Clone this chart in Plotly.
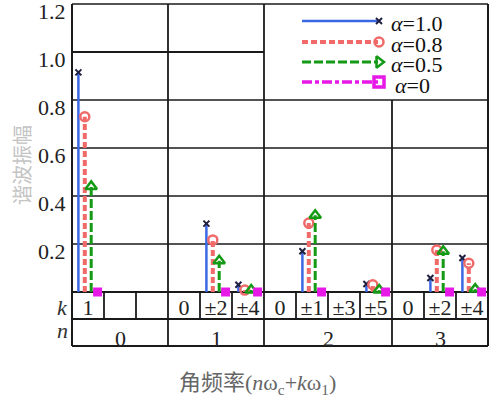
import plotly.graph_objects as go

# ---------------- data ----------------
k_labels = ["1", " ", " ", "0", "±2", "±4", "0", "±1", "±3", "±5", "0", "±2", "±4"]
n_labels = ["0", "1", "2", "3"]
n_group_sizes = [3, 3, 4, 3]
y_ticks = [0.2, 0.4, 0.6, 0.8, 1.0, 1.2]
y_tick_text = ["0.2", "0.4", "0.6", "0.8", "1.0", "1.2"]
series_names = ["α=1.0", "α=0.8", "α=0.5", "α=0"]
amp_a10 = [0.915, None, None, None, 0.285, 0.03, None, 0.17, None, 0.033, None, 0.058, 0.142]
amp_a08 = [0.73, None, None, None, 0.217, 0.008, None, 0.287, None, 0.03, None, 0.175, 0.12]
amp_a05 = [0.44, None, None, None, 0.13, 0.008, None, 0.32, None, 0.008, None, 0.17, 0.012]
amp_a00 = [0.0, None, None, None, 0.0, 0.0, None, 0.0, None, 0.0, None, 0.0, 0.0]

# ---------------- geometry / styles ----------------
W, H = 500, 402
PL, PR, PT, PB = 72, 488, 4, 292      # plot box in pixels
ROW1, ROW2 = 319, 346                 # table row bottoms
NC = len(k_labels)
CW = (PR - PL) / NC
SERIF = "Liberation Serif, Times New Roman, serif"
CJK = "Liberation Serif, Noto Sans CJK SC"
GRID = "#1a1a1a"

def xp(px):
    return px / W

def yp(py):
    return 1 - py / H

def ypx(v):
    return PB - (PB - PT) * v / 1.2

styles = [
    dict(color="#3b67e3", dash="solid", width=2.5,
         marker=dict(symbol="x-thin", size=6, line=dict(width=2, color="#202040"), color="#202040"), off=-0.3,
         leg_marker=dict(symbol="x-thin", size=6, line=dict(width=2, color="#202040"), color="#202040")),
    dict(color="#f06a6a", dash="6px,3px", width=4,
         marker=dict(symbol="circle-open", size=9, line=dict(width=2.5, color="#f06a6a"), color="#f06a6a"), off=-0.1,
         leg_marker=dict(symbol="circle-open", size=9, line=dict(width=2.5, color="#f06a6a"), color="#f06a6a")),
    dict(color="#149a14", dash="9px,3px", width=3,
         marker=dict(symbol="triangle-up-open", size=10, line=dict(width=2.5, color="#149a14"), color="#149a14"), off=0.1,
         leg_marker=dict(symbol="triangle-right-open", size=10, line=dict(width=2.5, color="#149a14"), color="#149a14")),
    dict(color="#e619e6", dash="10px,3px,4px,3px", width=3.5,
         marker=dict(symbol="square", size=9, color="#e619e6"), off=0.3,
         leg_marker=dict(symbol="square-open", size=10, line=dict(width=3.5, color="#e619e6"), color="#e619e6")),
]

fig = go.Figure()
all_series = [amp_a10, amp_a08, amp_a05, amp_a00]

for name, vals, st in zip(series_names, all_series, styles):
    lx, ly, mx, my = [], [], [], []
    for i, v in enumerate(vals):
        if v is None:
            continue
        x = i + st["off"]
        lx += [x, x, None]
        ly += [0, v, None]
        mx.append(x)
        my.append(v)
    fig.add_trace(go.Scatter(x=lx, y=ly, mode="lines", showlegend=False, hoverinfo="skip",
                             line=dict(color=st["color"], width=st["width"], dash=st["dash"]),
                             cliponaxis=False))
    fig.add_trace(go.Scatter(x=mx, y=my, mode="markers", showlegend=False, name=name,
                             marker=st["marker"], cliponaxis=False))

# ---------- legend drawn inside the box (pixel overlay axes) ----------
leg_rows = [21, 42, 62, 82]
leg_text_y = [23, 44, 64, 85]
for name, st, ry, ty in zip(series_names, styles, leg_rows, leg_text_y):
    fig.add_trace(go.Scatter(x=[302, 378], y=[ry, ry], mode="lines", xaxis="x2", yaxis="y2",
                             showlegend=False, hoverinfo="skip",
                             line=dict(color=st["color"], width=st["width"], dash=st["dash"])))
    fig.add_trace(go.Scatter(x=[379], y=[ry], mode="markers", xaxis="x2", yaxis="y2",
                             showlegend=False, hoverinfo="skip", marker=st["leg_marker"]))
    a, rest = name.split("=")
    fig.add_annotation(x=389 if rest != "0" else 393, y=ty, xref="x2", yref="y2", xanchor="left", yanchor="middle",
                       text="<i>" + a + "</i>=" + rest, showarrow=False,
                       font=dict(family=SERIF, size=22, color="#111"))

# ---------------- table / grid lines ----------------
shapes = []
def hline(py, x0, x1, w=1.5):
    shapes.append(dict(type="line", xref="paper", yref="paper", x0=xp(x0), x1=xp(x1), y0=yp(py), y1=yp(py),
                       line=dict(color=GRID, width=w), layer="below"))
def vline(px, y0, y1, w=1.5):
    shapes.append(dict(type="line", xref="paper", yref="paper", x0=xp(px), x1=xp(px), y0=yp(y0), y1=yp(y1),
                       line=dict(color=GRID, width=w), layer="below"))

bounds = [0]
for s in n_group_sizes:
    bounds.append(bounds[-1] + s)
legend_left = PL + bounds[2] * CW
legend_bottom = ypx(0.8)

hline(ypx(1.2), PL, PR)
hline(ypx(1.0), PL, legend_left, 2.2)
for v in [0.2, 0.4, 0.6, 0.8]:
    hline(ypx(v), PL, PR)
hline(PB, PL, PR, 2)
hline(ROW1, PL, PR, 2)
hline(ROW2, PL, PR, 2)
vline(PL, PT, ROW2, 2)
vline(PR, PT, ROW2, 2)
for j, b in enumerate(bounds[1:-1]):
    top = PT if j < 2 else legend_bottom
    vline(PL + b * CW, top, ROW2, 1.8)
for i in range(1, NC):
    if i not in bounds:
        vline(PL + i * CW, PB, ROW1, 1.8)

# ---------------- annotations ----------------
ann = []
for v, t in zip(y_ticks, y_tick_text):
    ann.append(dict(x=xp(68), xref="paper", y=v, yref="y", xanchor="right", yanchor="middle", yshift=-8,
                    text=t, showarrow=False, font=dict(family=SERIF, size=22, color="#222")))
for j, t in enumerate(n_labels):
    cx = PL + (bounds[j] + bounds[j + 1]) / 2 * CW
    ann.append(dict(x=xp(cx), xref="paper", y=yp(338), yref="paper", xanchor="center", yanchor="middle",
                    text=t, showarrow=False, font=dict(family=SERIF, size=22, color="#222")))
ann.append(dict(x=xp(70), xref="paper", y=yp(307), yref="paper", xanchor="right", yanchor="middle",
                text="<i>k</i>", showarrow=False, font=dict(family=SERIF, size=22, color="#333")))
ann.append(dict(x=xp(70), xref="paper", y=yp(330), yref="paper", xanchor="right", yanchor="middle",
                text="<i>n</i>", showarrow=False, font=dict(family=SERIF, size=22, color="#333")))
ann.append(dict(x=xp(257), xref="paper", y=yp(384), yref="paper", xanchor="center", yanchor="middle",
                text="角频率(<i>n</i>ω<sub>c</sub>+<i>k</i>ω<sub>1</sub>)", showarrow=False,
                font=dict(family=CJK, size=22, color="#666")))
ann.append(dict(x=xp(22), xref="paper", y=yp(165), yref="paper", xanchor="center", yanchor="middle",
                text="谐波振幅", textangle=-90, showarrow=False,
                font=dict(family="Noto Sans CJK SC", size=20, color="#c4c4c4")))

for a in ann:
    fig.add_annotation(**a)

fig.update_layout(
    width=W, height=H,
    margin=dict(l=0, r=0, t=0, b=0),
    paper_bgcolor="white", plot_bgcolor="rgba(0,0,0,0)",
    showlegend=False,
    shapes=shapes,
    xaxis=dict(domain=[xp(PL), xp(PR)], range=[-0.5, NC - 0.5], anchor="y",
               tickmode="array", tickvals=list(range(NC)), ticktext=k_labels,
               tickfont=dict(family=SERIF, size=22, color="#222"), ticks="",
               showgrid=False, zeroline=False, showline=False, fixedrange=True),
    yaxis=dict(domain=[yp(PB), yp(PT)], range=[0, 1.2], anchor="x",
               showticklabels=False, showgrid=False, zeroline=False, showline=False, ticks="", fixedrange=True),
    xaxis2=dict(domain=[0, 1], range=[0, W], anchor="y2", visible=False, fixedrange=True),
    yaxis2=dict(domain=[0, 1], range=[H, 0], anchor="x2", visible=False, fixedrange=True),
)

fig.write_html("out.html", config={"displayModeBar": False},
               post_script="document.body.style.margin='0';document.body.style.overflow='hidden';")
